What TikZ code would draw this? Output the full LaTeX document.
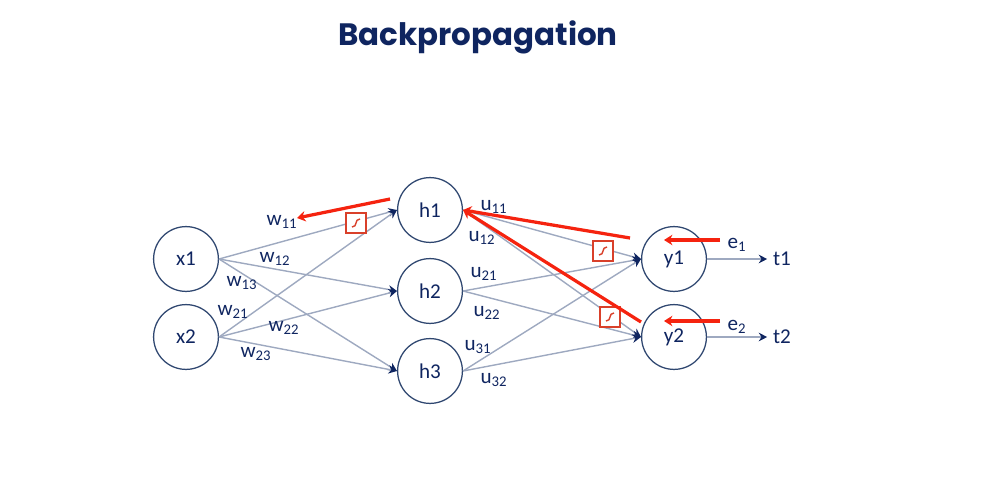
\documentclass[tikz,border=0pt]{standalone}
\usepackage{fontspec}
\setmainfont{Carlito}
\newfontfamily\titlefont{Poppins}
\usetikzlibrary{arrows.meta}
\definecolor{navy}{HTML}{0F2560}
\definecolor{ringblue}{HTML}{2F4770}
\definecolor{edgegrey}{HTML}{9EA9C0}
\definecolor{backred}{HTML}{F5230F}
\definecolor{boxred}{HTML}{D9402A}
\tikzset{
  unit/.style={circle, draw=ringblue, line width=0.9pt, minimum size=1.62cm, inner sep=0pt, text=navy, font=\fontsize{15}{17}\selectfont},
  target/.style={inner sep=4pt, text=navy, font=\fontsize{15}{17}\selectfont},
  weight/.style={inner sep=0pt, text=navy, font=\fontsize{15}{17}\selectfont},
  edge/.style={draw=edgegrey, line width=1pt, -{Stealth[color=navy, length=6pt, width=6pt]}},
  backedge/.style={draw=backred, line width=2.3pt, -{Stealth[length=6pt, width=7.5pt]}},
  sigbox/.style={draw=boxred, line width=0.8pt, fill=white, minimum size=0.5cm, inner sep=0pt},
  sigcurve/.style={draw=boxred, line width=1pt}
}
\begin{document}
\begin{tikzpicture}[x=0.025cm, y=-0.025cm]
  \useasboundingbox (0,0) rectangle (983,486);
  \node[inner sep=0pt, text=navy, font=\titlefont\bfseries\fontsize{22}{26}\selectfont] (title) at (478,37) {Backpropagation};
  % units
  \node[unit] (x1) at (186,259) {x1};
  \node[unit] (x2) at (186,337) {x2};
  \node[unit] (h1) at (430,210) {h1};
  \node[unit] (h2) at (430,291) {h2};
  \node[unit] (h3) at (430,371) {h3};
  \node[unit] (y1) at (674,259) {y1};
  \node[unit] (y2) at (674,337) {y2};
  \node[target] (t1) at (782,259) {t1};
  \node[target] (t2) at (782,337) {t2};
  % connections
  \draw[edge] (x1.east) -- (h1.west);
  \draw[edge] (x1.east) -- (h2.west);
  \draw[edge] (x1.east) -- (h3.west);
  \draw[edge] (x2.east) -- (h1.west);
  \draw[edge] (x2.east) -- (h2.west);
  \draw[edge] (x2.east) -- (h3.west);
  \draw[edge] (h1.east) -- (y1.west);
  \draw[edge] (h1.east) -- (y2.west);
  \draw[edge] (h2.east) -- (y1.west);
  \draw[edge] (h2.east) -- (y2.west);
  \draw[edge] (h3.east) -- (y1.west);
  \draw[edge] (h3.east) -- (y2.west);
  \draw[edge] (y1.east) -- (t1.west);
  \draw[edge] (y2.east) -- (t2.west);
  % weights
  \node[weight] (w11) at (282,222) {w\textsubscript{11}};
  \node[weight] (w12) at (275,259) {w\textsubscript{12}};
  \node[weight] (w13) at (242,283) {w\textsubscript{13}};
  \node[weight] (w21) at (233,312) {w\textsubscript{21}};
  \node[weight] (w22) at (284,328) {w\textsubscript{22}};
  \node[weight] (w23) at (256,354) {w\textsubscript{23}};
  \node[weight] (u11) at (494,207) {u\textsubscript{11}};
  \node[weight] (u12) at (482,238) {u\textsubscript{12}};
  \node[weight] (u21) at (484,274) {u\textsubscript{21}};
  \node[weight] (u22) at (487,313) {u\textsubscript{22}};
  \node[weight] (u31) at (478,347) {u\textsubscript{31}};
  \node[weight] (u32) at (494,380) {u\textsubscript{32}};
  \node[weight] (e1) at (737,245) {e\textsubscript{1}};
  \node[weight] (e2) at (737,327) {e\textsubscript{2}};
  % sigmoid boxes
  \node[sigbox] (s1) at (356,223) {};
  \node[sigbox] (s2) at (603,251) {};
  \node[sigbox] (s3) at (610,317) {};
  \draw[sigcurve] ([shift={(-4,4)}]s1.center) .. controls ([shift={(2,4)}]s1.center) and ([shift={(-2,-4)}]s1.center) .. ([shift={(4,-4)}]s1.center);
  \draw[sigcurve] ([shift={(-4,4)}]s2.center) .. controls ([shift={(2,4)}]s2.center) and ([shift={(-2,-4)}]s2.center) .. ([shift={(4,-4)}]s2.center);
  \draw[sigcurve] ([shift={(-4,4)}]s3.center) .. controls ([shift={(2,4)}]s3.center) and ([shift={(-2,-4)}]s3.center) .. ([shift={(4,-4)}]s3.center);
  % backward errors
  \coordinate (a1) at (390,199);
  \coordinate (a2) at (297,218);
  \coordinate (b1) at (630,238);
  \coordinate (b2) at (641,322);
  \coordinate (c1) at (720,240);
  \coordinate (c2) at (664,240);
  \coordinate (d1) at (720,321);
  \coordinate (d2) at (664,321);
  \draw[backedge] (a1) -- (a2);
  \draw[backedge] (b1) -- (h1.east);
  \draw[backedge] (b2) -- (h1.east);
  \draw[backedge] (c1) -- (c2);
  \draw[backedge] (d1) -- (d2);
\end{tikzpicture}
\end{document}
